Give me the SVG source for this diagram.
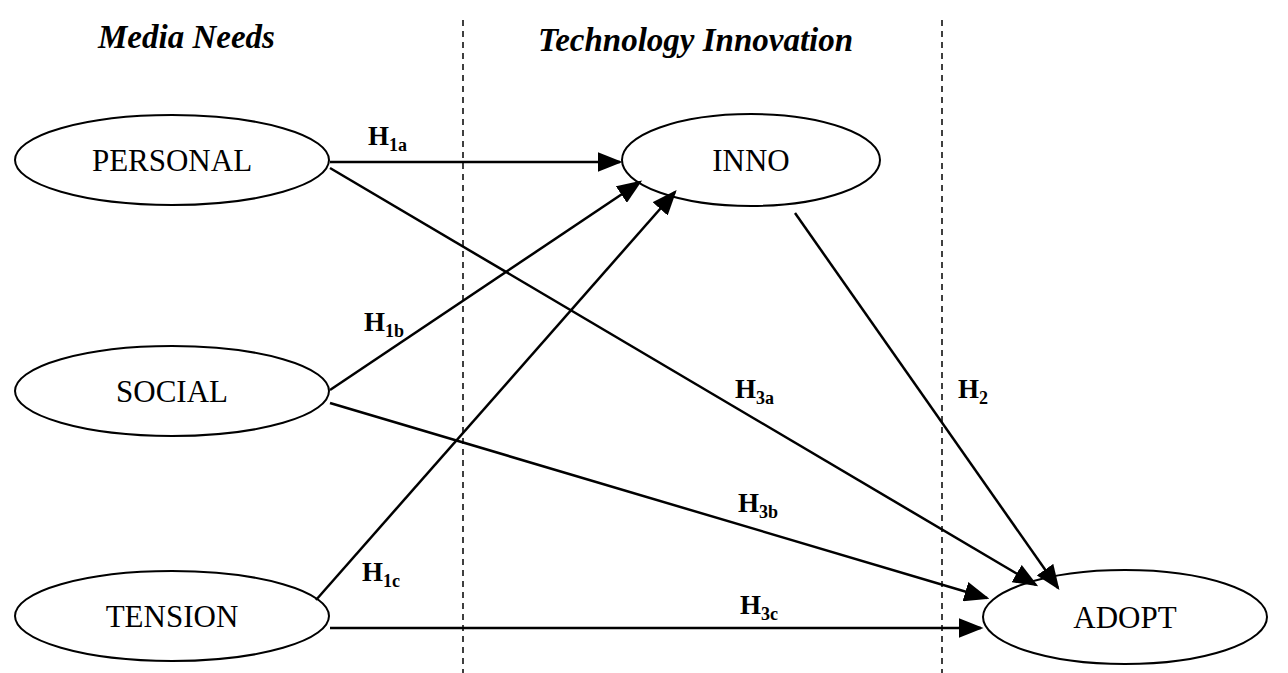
<svg xmlns="http://www.w3.org/2000/svg" width="1288" height="673" viewBox="0 0 1288 673">
<style>
.n{fill:#fff;stroke:#000;stroke-width:2}
.t{font-family:"Liberation Serif",serif;font-size:31px;text-anchor:middle}
.h{font-family:"Liberation Serif",serif;font-size:33px;font-weight:bold;font-style:italic}
.l{font-family:"Liberation Serif",serif;font-size:27px;font-weight:bold}
.s{font-size:18px}
.c line{stroke:#000;stroke-width:2.5;marker-end:url(#a)}
.d{stroke:#000;stroke-width:1.5;stroke-dasharray:6,5}
</style>
<defs><marker id="a" markerWidth="10" markerHeight="8" refX="9" refY="4" orient="auto" markerUnits="strokeWidth"><path d="M0,0L10,4L0,8z"/></marker></defs>
<rect width="1288" height="673" fill="#fff"/>
<line class="d" x1="463" y1="20" x2="463" y2="673"/>
<line class="d" x1="942" y1="20" x2="942" y2="673"/>
<text class="h" x="98" y="48">Media Needs</text>
<text class="h" x="538" y="51">Technology Innovation</text>
<g id="personal"><ellipse class="n" cx="172" cy="160" rx="157" ry="45"/><text class="t" x="172" y="171">PERSONAL</text></g>
<g id="social"><ellipse class="n" cx="172" cy="391" rx="157" ry="45"/><text class="t" x="172" y="402">SOCIAL</text></g>
<g id="tension"><ellipse class="n" cx="172" cy="616" rx="157" ry="45"/><text class="t" x="172" y="627">TENSION</text></g>
<g id="inno"><ellipse class="n" cx="751" cy="160" rx="129" ry="46"/><text class="t" x="751" y="171">INNO</text></g>
<g id="adopt"><ellipse class="n" cx="1125" cy="617" rx="142" ry="47"/><text class="t" x="1125" y="628">ADOPT</text></g>
<g class="c">
<line x1="330" y1="162" x2="620" y2="162"/>
<line x1="330" y1="168" x2="1036" y2="585"/>
<line x1="330" y1="390" x2="640" y2="182"/>
<line x1="330" y1="403" x2="987" y2="598"/>
<line x1="316" y1="600" x2="675" y2="192"/>
<line x1="330" y1="628" x2="981" y2="628"/>
<line x1="795" y1="213" x2="1058" y2="588"/>
</g>
<g id="labels">
<text class="l" x="368" y="145">H<tspan class="s" dy="6">1a</tspan></text>
<text class="l" x="364" y="331">H<tspan class="s" dy="6">1b</tspan></text>
<text class="l" x="735" y="398">H<tspan class="s" dy="6">3a</tspan></text>
<text class="l" x="958" y="398">H<tspan class="s" dy="6">2</tspan></text>
<text class="l" x="738" y="512">H<tspan class="s" dy="6">3b</tspan></text>
<text class="l" x="362" y="581">H<tspan class="s" dy="6">1c</tspan></text>
<text class="l" x="740" y="614">H<tspan class="s" dy="6">3c</tspan></text>
</g>
</svg>
